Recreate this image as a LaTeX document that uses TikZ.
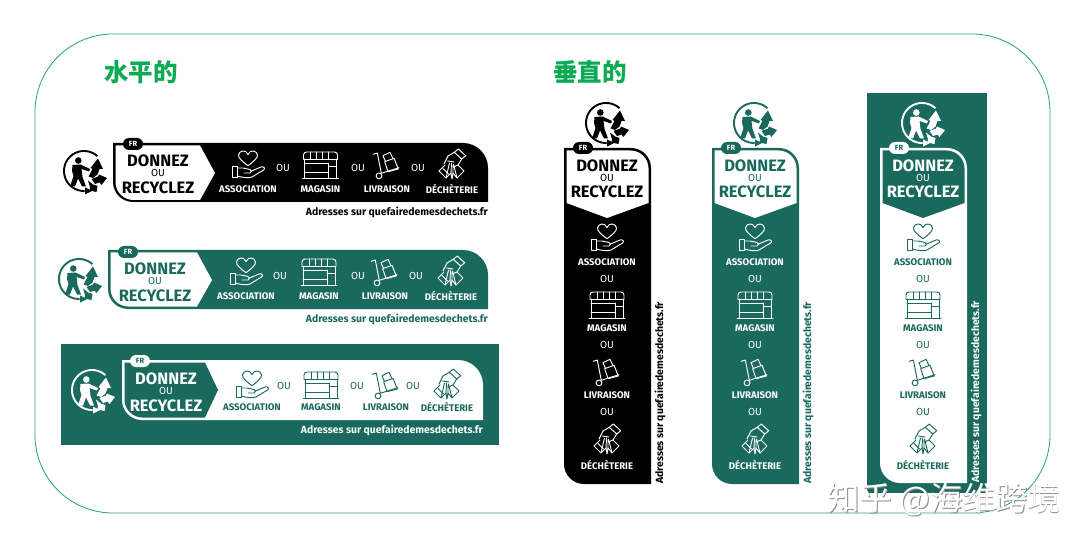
\documentclass[tikz,border=0pt]{standalone}
\usepackage{fontspec}
\setmainfont{Fira Sans}
\newfontfamily\cjk{Noto Sans CJK SC}
\definecolor{dgreen}{HTML}{196A5D}
\definecolor{fgreen}{HTML}{22A566}
\definecolor{tgreen}{HTML}{0BAA55}
\tikzset{
  big/.style={inner sep=0pt,yshift=-0.7pt,font=\fontsize{16.5}{16}\selectfont\bfseries},
  ousmall/.style={inner sep=0pt,font=\fontsize{10.2}{10}\selectfont},
  lab/.style={inner sep=0pt,font=\fontsize{9.6}{9}\selectfont\bfseries},
  addr/.style={inner sep=0pt,font=\fontsize{10.4}{10}\selectfont\bfseries},
  frbadge/.style={rounded corners=6pt,minimum width=20pt,minimum height=12pt,inner sep=0pt,font=\fontsize{7.5}{7}\selectfont\bfseries},
  icon/.style={line width=0.95pt,line join=round,line cap=round},
  pics/trilogo/.code={
    \draw[line width=1.9pt] plot[domain=88:312,samples=40] ({20*cos(\x)},{20*sin(\x)});
    \fill (1,16.5) -- (8,20) -- (1,23.5) -- cycle;
    \fill (-5.7,-10.5) circle (3.3);
    \fill (-11.5,-6) -- (-3.5,-6.5) -- (6,-2) -- (5,0.5) -- (-2.5,-2) -- (-1.5,6) -- (2,15.5) -- (-2,15.5) -- (-6,7.5) -- (-9,15.5) -- (-14,15.5) -- (-10.5,5) -- (-12,0) -- cycle;
    \fill (4.5,5.5) -- (8.5,-2) -- (6.5,-3) -- (14,-12.5) -- (19,-2) -- (15.5,-2) -- (13.5,3.5) -- (9,7) -- cycle;
    \fill (7.5,8) -- (14,5.5) -- (15,3.5) -- (23,7) -- (17.5,14) -- (15.5,11.5) -- (11,13) -- cycle;
    \fill (4,9.5) -- (9,13.5) -- (13.5,15) -- (12.5,21) -- (5.5,19.5) -- (6,16) -- cycle;
  },
  pics/heart/.code={
    \draw[icon] (0,0.7) .. controls (-5,-3) and (-10,-7) .. (-9.5,-10) .. controls (-9,-14.5) and (-2,-16) .. (0,-10.5) .. controls (2,-16) and (9,-14.5) .. (9.5,-10) .. controls (10,-7) and (5,-3) .. (0,0.7) -- cycle;
    \draw[icon] (-15.5,1.7) rectangle (-10.5,12.7);
    \draw[icon] (-10.5,3) -- (-5,3) .. controls (-2,3) and (-1,4.5) .. (2,4.5) .. controls (4,4.5) and (4,8) .. (2,8) -- (-4,8);
    \draw[icon] (3.5,6) -- (13,2) .. controls (15.5,1) and (18,3.5) .. (15.5,5) -- (4,12) .. controls (1,13.5) and (-6,12.5) .. (-10.5,11);
  },
  pics/shop/.code={
    \draw[icon] (-18,13) -- (18,13);
    \draw[icon] (-16,-6) -- (-16,13) (16,-6) -- (16,13);
    \draw[icon,rounded corners=3pt] (-17,-6) -- (-17,-13) -- (17,-13) -- (17,-6);
    \draw[icon] (-17,-6) -- (17,-6);
    \draw[icon] (-10,-13) -- (-10,-6) (-4,-13) -- (-4,-6) (2,-13) -- (2,-6) (8,-13) -- (8,-6);
    \draw[icon] (-16,-2) -- (8,-2);
    \draw[icon] (-16,7) -- (8,7);
    \draw[icon] (8,-2) -- (8,13);
    \draw[icon] (8,1) -- (16,1);
  },
  pics/trolley/.code={
    \draw[icon] (-13.7,-10.7) -- (-9.7,-12) -- (-5.7,8.3) -- (12,2.7);
    \draw[icon] (-8,10.9) circle (2.9);
    \draw[icon] (-2.3,-3.3) -- (7,-6.7) -- (11.3,4) -- (1,6.7) -- cycle;
    \draw[icon] (-4,-9.3) -- (3,-12.7) -- (6,-6.3) (-4,-9.3) -- (-1.6,-3.6);
  },
  pics/dech/.code={
    \draw[icon] (6.3,-16) -- (13.7,-9.3) -- (9.7,-6) -- (2.3,-12.7) -- cycle;
    \draw[icon] (2.3,-12.7) -- (-4,-9) -- (-8,-1);
    \draw[icon] (9.7,-6) -- (6,0) -- (1.5,2);
    \draw[icon] (-4.5,-4) -- (2,-3);
    \draw[icon] (-13,6) -- (-7,0);
    \draw[icon] (-13,6) -- (-6,13) -- (-1,8) -- (0,14) -- (1,8) -- (5,13) -- (12,6) -- (6,0);
    \draw[icon] (-6,13) -- (-2.5,-2) (5,13) -- (1.5,-1) (-1,8) -- (-0.5,-2) (1,8) -- (1,0);
    \draw[icon] (-9,3.5) -- (-3.5,9);
  }
}
% pic, colour, x, y
\newcommand{\putpic}[4]{\begin{scope}[shift={(#3,#4)},color=#2]\pic {#1};\end{scope}}
% name, pic, colour, x, icon y, label y, text
\newcommand{\hitem}[7]{%
  \putpic{#2}{#3}{#4}{#5}
  \node[lab,text=#3] (#1t) at (#4,#6) {#7};
}
\newcommand{\ouu}[4]{\node[ousmall,text=#2] (#1) at (#3,#4) {OU};}
\newcommand{\threeword}[6]{%
  \node[big,text=#2] (#1a) at (#3,#4) {DONNEZ};
  \node[ousmall,text=#2] (#1b) at (#3,#5) {OU};
  \node[big,text=#2] (#1c) at (#3,#6) {RECYCLEZ};
}
\newcommand{\vcolumn}[3]{%
  \threeword{#1w}{#3}{#2}{165}{178}{191}
}
\newcommand{\vitems}[3]{%
  \hitem{#1h}{heart}{#3}{#2}{238}{262}{ASSOCIATION}
  \ouu{#1o1}{#3}{#2}{279}
  \hitem{#1s}{shop}{#3}{#2}{305}{328}{MAGASIN}
  \ouu{#1o2}{#3}{#2}{345}
  \hitem{#1t}{trolley}{#3}{#2}{372}{395}{LIVRAISON}
  \ouu{#1o3}{#3}{#2}{412}
  \hitem{#1d}{dech}{#3}{#2}{440}{465}{DÉCHÈTERIE}
}
\begin{document}
\begin{tikzpicture}[x=1pt,y=-1pt]
\useasboundingbox (0,0) rectangle (1089,545);
\fill[white] (0,0) rectangle (1089,545);
\draw[fgreen,line width=0.8pt,rounded corners=78pt] (35,34) rectangle (1050,513);
\node[inner sep=0pt,text=tgreen,font=\cjk\fontsize{24.5}{25}\selectfont\bfseries] (t1) at (141,72) {水平的};
\node[inner sep=0pt,text=tgreen,font=\cjk\fontsize{24.5}{25}\selectfont\bfseries] (t2) at (590,72) {垂直的};

% ---------- H1 black
\putpic{trilogo}{black}{84}{171}
\fill[black] (113,143) [rounded corners=25pt] -- (488,143) [sharp corners] -- (488,202) [rounded corners=20pt] -- (113,202) [sharp corners] -- cycle;
\fill[white] (115.5,145.5) -- (200,145.5) -- (215,173) -- (200,200) [rounded corners=18pt] -- (115.5,200) [sharp corners] -- cycle;
\node[frbadge,fill=black,text=white] (f1) at (133,144) {FR};
\threeword{h1w}{black}{158}{160}{173}{187}
\hitem{h1h}{heart}{white}{248}{165}{189}{ASSOCIATION}
\ouu{h1o1}{white}{283}{168}
\hitem{h1s}{shop}{white}{320.5}{165}{189}{MAGASIN}
\ouu{h1o2}{white}{358}{168}
\hitem{h1t}{trolley}{white}{387}{165}{189}{LIVRAISON}
\ouu{h1o3}{white}{418}{168}
\hitem{h1d}{dech}{white}{452}{165}{189}{DÉCHÈTERIE}
\node[addr,text=black,anchor=east] (a1) at (488,212) {Adresses sur quefairedemesdechets.fr};

% ---------- H2 green
\putpic{trilogo}{dgreen}{79}{279}
\fill[dgreen] (108,250) [rounded corners=25pt] -- (488,250) [sharp corners] -- (488,309) [rounded corners=20pt] -- (108,309) [sharp corners] -- cycle;
\fill[white] (110.5,252.5) -- (197,252.5) -- (212,280) -- (197,306.5) [rounded corners=18pt] -- (110.5,306.5) [sharp corners] -- cycle;
\node[frbadge,fill=dgreen,text=white] (f2) at (128,252) {FR};
\threeword{h2w}{dgreen}{155}{268}{281}{295}
\hitem{h2h}{heart}{white}{246}{272}{296}{ASSOCIATION}
\ouu{h2o1}{white}{280}{276}
\hitem{h2s}{shop}{white}{319}{272}{296}{MAGASIN}
\ouu{h2o2}{white}{358}{276}
\hitem{h2t}{trolley}{white}{385}{272}{296}{LIVRAISON}
\ouu{h2o3}{white}{416}{276}
\hitem{h2d}{dech}{white}{451}{272}{296}{DÉCHÈTERIE}
\node[addr,text=dgreen,anchor=east] (a2) at (488,319) {Adresses sur quefairedemesdechets.fr};

% ---------- H3 reversed
\fill[dgreen] (61,344) rectangle (499,445);
\putpic{trilogo}{white}{92}{390}
\fill[white] (122,360) [rounded corners=25pt] -- (483,360) [sharp corners] -- (483,420) [rounded corners=20pt] -- (122,420) [sharp corners] -- cycle;
\fill[dgreen] (124.5,362.5) -- (205,362.5) -- (218,390) -- (205,417.5) [rounded corners=18pt] -- (124.5,417.5) [sharp corners] -- cycle;
\node[frbadge,fill=white,text=dgreen] (f3) at (140,361) {FR};
\threeword{h3w}{white}{166}{378}{391}{405}
\hitem{h3h}{heart}{dgreen}{252}{385}{407}{ASSOCIATION}
\ouu{h3o1}{dgreen}{284}{386}
\hitem{h3s}{shop}{dgreen}{321}{385}{407}{MAGASIN}
\ouu{h3o2}{dgreen}{357}{386}
\hitem{h3t}{trolley}{dgreen}{386}{385}{407}{LIVRAISON}
\ouu{h3o3}{dgreen}{413}{386}
\hitem{h3d}{dech}{dgreen}{447}{385}{407}{DÉCHÈTERIE}
\node[addr,text=white,anchor=east] (a3) at (483,430) {Adresses sur quefairedemesdechets.fr};

% ---------- V1 black
\putpic{trilogo}{black}{606}{123}
\fill[black] (564,148) [rounded corners=20pt] -- (651,148) [sharp corners] -- (651,484) [rounded corners=20pt] -- (564,484) [sharp corners] -- cycle;
\fill[white] (566.5,150.5) [rounded corners=18pt] -- (648.5,150.5) [sharp corners] -- (648.5,203) -- (607,218) -- (566.5,203) -- cycle;
\node[frbadge,fill=black,text=white] (f4) at (583,148) {FR};
\vcolumn{v1}{607}{black}
\vitems{v1}{607}{white}
\node[addr,text=black,anchor=west,rotate=90] (a4) at (660,484) {Adresses sur quefairedemesdechets.fr};

% ---------- V2 green
\putpic{trilogo}{dgreen}{754}{123}
\fill[dgreen] (712,148) [rounded corners=20pt] -- (799,148) [sharp corners] -- (799,484) [rounded corners=20pt] -- (712,484) [sharp corners] -- cycle;
\fill[white] (714.5,150.5) [rounded corners=18pt] -- (796.5,150.5) [sharp corners] -- (796.5,203) -- (755,218) -- (714.5,203) -- cycle;
\node[frbadge,fill=dgreen,text=white] (f5) at (731,148) {FR};
\vcolumn{v2}{755}{dgreen}
\vitems{v2}{755}{white}
\node[addr,text=dgreen,anchor=west,rotate=90] (a5) at (808,484) {Adresses sur quefairedemesdechets.fr};

% ---------- V3 reversed
\fill[dgreen] (867,93) rectangle (987,493);
\putpic{trilogo}{white}{922}{123}
\fill[white] (880,148) [rounded corners=20pt] -- (967,148) [sharp corners] -- (967,483) [rounded corners=20pt] -- (880,483) [sharp corners] -- cycle;
\fill[dgreen] (882.5,150.5) [rounded corners=18pt] -- (964.5,150.5) [sharp corners] -- (964.5,203) -- (923,218) -- (882.5,203) -- cycle;
\node[frbadge,fill=white,text=dgreen] (f6) at (899,148) {FR};
\vcolumn{v3}{923}{white}
\vitems{v3}{923}{dgreen}
\node[addr,text=white,anchor=west,rotate=90] (a6) at (976,483) {Adresses sur quefairedemesdechets.fr};

% ---------- watermark
\node[inner sep=0pt,text=black!45,font=\cjk\fontsize{32.5}{33}\selectfont] (w1) at (944.7,500.7) {知乎 @海维跨境};
\node[inner sep=0pt,text=white,font=\cjk\fontsize{32.5}{33}\selectfont] (w2) at (944,500) {知乎 @海维跨境};
\end{tikzpicture}
\end{document}
